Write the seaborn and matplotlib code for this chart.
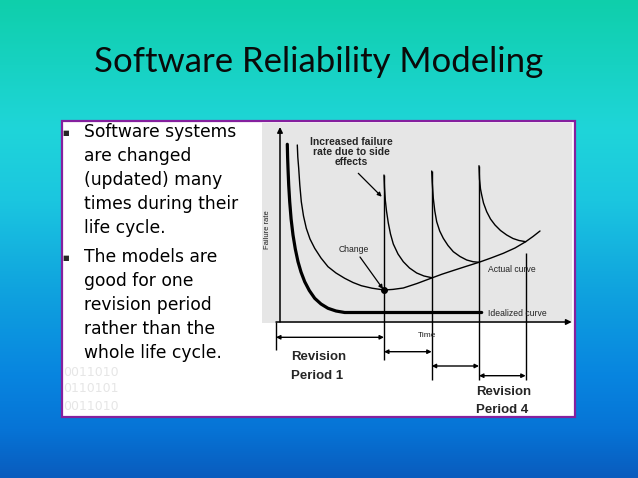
import numpy as np
import pandas as pd
import matplotlib
matplotlib.use("Agg")
import matplotlib.pyplot as plt
from matplotlib.patches import Rectangle
from matplotlib.colors import LinearSegmentedColormap
import seaborn as sns

sns.set_style("white")
plt.rcParams['font.family'] = ['DejaVu Sans']

# ---- data (time t, failure rate r; arbitrary units) ----
ideal_t = [7.3, 7.6, 8.0, 8.7, 9.7, 11.1, 13.0, 15.3, 18.0, 21.0, 24.7, 29.3, 34.7,
           41.0, 48.0, 56.0, 64.7, 201.7]
ideal_r = [177.7, 165.0, 153.7, 137.0, 120.3, 103.0, 87.0, 73.0, 60.3, 50.0, 40.3,
           31.5, 23.7, 18.0, 13.7, 11.0, 9.5, 9.5]

actual_t = [17.3, 17.8, 18.7, 19.8, 21.3, 23.5, 26.3, 30.0, 34.7, 41.0, 48.0, 56.0,
            64.7, 73.0, 81.3, 92.0, 104.0]
actual_r = [177.0, 165.0, 153.7, 137.0, 120.3, 106.0, 93.7, 83.0, 73.7, 64.0, 55.3,
            49.0, 43.7, 39.5, 36.3, 33.8, 32.0]

base_t = [104.0, 113.0, 123.3, 137.0, 151.7, 162.0, 173.3, 186.0, 199.0, 211.0,
          223.3, 235.0, 245.7, 253.0, 260.0]
base_r = [32.0, 32.6, 34.0, 38.5, 44.0, 47.8, 51.5, 55.6, 59.7, 64.0, 68.7, 74.0,
          80.3, 85.5, 91.0]

decay1_t = [104.0, 104.5, 105.3, 106.5, 108.3, 110.5, 113.3, 118.0, 123.3, 129.5,
            136.7, 144.0, 151.7]
decay1_r = [147.0, 134.0, 122.0, 111.0, 99.0, 88.0, 78.0, 68.0, 60.3, 54.0, 49.0,
            46.0, 44.3]
decay2_t = [151.7, 152.2, 152.8, 153.3, 154.8, 156.7, 159.7, 163.3, 168.0, 173.3,
            180.0, 186.7, 193.0, 199.0]
decay2_r = [151.0, 140.0, 131.0, 123.7, 111.0, 100.3, 91.0, 83.7, 76.5, 70.3, 65.5,
            62.0, 60.3, 59.7]
decay3_t = [199.0, 199.5, 200.5, 201.7, 203.5, 206.7, 210.5, 215.0, 220.5, 226.7,
            233.0, 239.0, 245.7]
decay3_r = [156.3, 143.0, 133.0, 127.0, 119.0, 110.3, 103.0, 97.0, 91.5, 87.0, 83.5,
            81.5, 80.3]

change_t = [104.0, 151.7, 199.0, 245.7]
change_top = [147.0, 151.0, 156.3, 69.3]
change_bottom = [-38.0, -58.0, -58.0, -58.0]

period_start = [-4.0, 104.0, 151.7, 199.0]
period_end = [104.0, 151.7, 199.0, 245.7]
period_level = [-15.3, -29.7, -44.0, -53.7]

bullet1 = ["Software systems", "are changed", "(updated) many",
           "times during their", "life cycle."]
bullet2 = ["The models are", "good for one", "revision period",
           "rather than the", "whole life cycle."]
watermark = ["0011010", "0110101", "0011010"]

W, H = 638, 478
fig = plt.figure(figsize=(W / 100, H / 100), dpi=100)


def fx(px):
    return px / W


def fy(py):
    return 1 - py / H


# slide background gradient
bg = fig.add_axes([0, 0, 1, 1])
cmap = LinearSegmentedColormap.from_list("slide", [
    (0.0, "#0fcfab"), (0.27, "#1fd5d9"), (0.42, "#1bc6e0"),
    (0.6, "#10a4de"), (0.78, "#0886e0"), (0.9, "#0674d6"), (1.0, "#0a5cbe")])
bg.imshow(np.linspace(0, 1, 256).reshape(-1, 1), cmap=cmap, aspect="auto",
          extent=[0, 1, 0, 1])
bg.set_axis_off()

fig.text(fx(319), fy(71.7), "Software Reliability Modeling", family="Lato",
         fontsize=25, ha="center", va="baseline", color="#0a0a0a")

# white panel with purple border
fig.patches.append(Rectangle((fx(61.7), fy(416.7)), fx(575 - 61.7), (416.7 - 121) / H,
                             transform=fig.transFigure, facecolor="white",
                             edgecolor="#85209e", lw=1.6, zorder=1))

# faint binary watermark below the bullet text
for i, digits in enumerate(watermark):
    fig.text(fx(63), fy(372 + i * 17), digits, fontsize=9, color="#e6e6e6",
             ha="left", va="center", zorder=2)

# bullet text
for block, y0 in [(bullet1, 131.7), (bullet2, 256.7)]:
    fig.text(fx(65.5), fy(y0 + 1), "\u25a0", fontsize=5, ha="center", va="center", zorder=3)
    for k, line in enumerate(block):
        fig.text(fx(84.5), fy(y0 + k * 24.15), line, fontsize=12.3, ha="left",
                 va="center", color="black", zorder=3)

# chart
ax = fig.add_axes([fx(262), fy(416), 313 / W, 293 / H], zorder=4)
ax.set_xlim(-18, 295)
ax.set_ylim(-94, 199)
ax.set_axis_off()
ax.patch.set_alpha(0)
ax.fill_between([-18, 292], -1, 199, color="#e6e6e6", lw=0, zorder=0)

sns.lineplot(x=ideal_t, y=ideal_r, ax=ax, color="black", lw=2.3, sort=False,
             estimator=None)
curves = pd.DataFrame({
    "t": actual_t + base_t + decay1_t + decay2_t + decay3_t,
    "r": actual_r + base_r + decay1_r + decay2_r + decay3_r,
    "curve": (["actual"] * len(actual_t) + ["base"] * len(base_t) + ["d1"] * len(decay1_t)
              + ["d2"] * len(decay2_t) + ["d3"] * len(decay3_t)),
})
sns.lineplot(data=curves, x="t", y="r", units="curve", estimator=None, sort=False,
             ax=ax, color="black", lw=1.0)
ax.vlines(change_t, change_bottom, change_top, color="black", lw=1.0)
ax.vlines([-4], [-28], [0], color="black", lw=1.0)
ax.plot([change_t[0]], [base_r[0]], "o", color="black", ms=4)

arrow_kw = dict(arrowstyle="-|>", color="black", lw=1.1, mutation_scale=8,
                shrinkA=0, shrinkB=0)
ax.annotate("", xy=(291.7, 0), xytext=(-4, 0), arrowprops=arrow_kw)
ax.annotate("", xy=(0, 195), xytext=(0, 0), arrowprops=arrow_kw)
for a, b, lev in zip(period_start, period_end, period_level):
    ax.annotate("", xy=(b, lev), xytext=(a, lev),
                arrowprops=dict(arrowstyle="<|-|>", color="black", lw=1.0,
                                mutation_scale=6, shrinkA=0, shrinkB=0))

ax.text(71.7, 170, "Increased failure\nrate due to side\neffects", family="Liberation Sans",
        fontweight="bold", fontsize=7.5, ha="center", va="center", linespacing=1.0)
ax.annotate("", xy=(101.7, 125.3), xytext=(78.3, 148.7),
            arrowprops=dict(arrowstyle="-|>", color="black", lw=0.9, mutation_scale=6,
                            shrinkA=0, shrinkB=0))
ax.text(74, 72.7, "Change", family="Liberation Sans", fontsize=6.2, ha="center",
        va="center", color="#222222")
ax.annotate("", xy=(103, 33), xytext=(80, 65),
            arrowprops=dict(arrowstyle="-|>", color="black", lw=0.9, mutation_scale=6,
                            shrinkA=0, shrinkB=0))
ax.text(207.7, 53, "Actual curve", family="Liberation Sans", fontsize=6.2,
        ha="left", va="center", color="#222222")
ax.text(207.7, 9, "Idealized curve", family="Liberation Sans", fontsize=6.2,
        ha="left", va="center", color="#222222")
ax.text(146.7, -13.7, "Time", family="Liberation Sans", fontsize=6, ha="center",
        va="center", color="#222222")
ax.text(-12.7, 92, "Failure rate", family="Liberation Sans", fontsize=5.5, rotation=90,
        ha="center", va="center", color="#222222")
for t0, r1, r2, n in [(11, -34.7, -53.7, "1"), (196, -69.7, -88.0, "4")]:
    ax.text(t0, r1, "Revision", family="Liberation Sans", fontweight="bold",
            fontsize=9.5, ha="left", va="center")
    ax.text(t0, r2, "Period " + n, family="Liberation Sans", fontweight="bold",
            fontsize=9.5, ha="left", va="center")

fig.savefig("out.png", dpi=100)
